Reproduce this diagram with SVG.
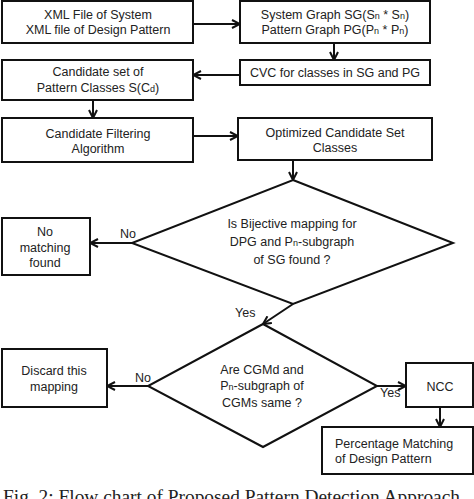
<svg xmlns="http://www.w3.org/2000/svg" width="474" height="499" viewBox="0 0 474 499">
<defs>
<marker id="arr" viewBox="0 0 10 10" refX="9" refY="5" markerWidth="10" markerHeight="10" markerUnits="userSpaceOnUse" orient="auto">
<path d="M1,1 L9,5 L1,9" fill="none" stroke="#111" stroke-width="2"/>
</marker>
<style>
.box{fill:#fff;stroke:#111;stroke-width:2}
.t{font-family:"Liberation Sans",Arial,sans-serif;font-size:12.5px;fill:#222;text-anchor:middle}
.l{font-family:"Liberation Sans",Arial,sans-serif;font-size:12.5px;fill:#222}
.s{font-size:9px}
.c{fill:none;stroke:#111;stroke-width:2;marker-end:url(#arr)}
.cap{font-family:"Liberation Serif","Times New Roman",serif;font-size:18px;fill:#222}
</style>
</defs>
<rect width="474" height="499" fill="#fff"/>
<g id="connectors">
<line class="c" x1="193" y1="24" x2="240" y2="24"/>
<line class="c" x1="334" y1="43" x2="334" y2="60"/>
<line class="c" x1="240" y1="75" x2="193" y2="75"/>
<line class="c" x1="93" y1="100" x2="93" y2="118"/>
<line class="c" x1="193" y1="136" x2="238" y2="136"/>
<line class="c" x1="293" y1="160" x2="293" y2="180"/>
<line class="c" x1="132" y1="243" x2="90" y2="243"/>
<line class="c" x1="293" y1="304" x2="263" y2="324"/>
<line class="c" x1="148" y1="386" x2="107" y2="386"/>
<line class="c" x1="377" y1="386" x2="406" y2="386"/>
<line class="c" x1="440" y1="407" x2="440" y2="427"/>
<text class="l" x="120" y="238">No</text>
<text class="l" x="235" y="317">Yes</text>
<text class="l" x="135" y="382">No</text>
<text class="l" x="380" y="397">Yes</text>
</g>
<g id="xml">
<rect class="box" x="2" y="1" width="191" height="42"/>
<text class="t" x="98" y="19">XML File of System</text>
<text class="t" x="98" y="34">XML file of Design Pattern</text>
</g>
<g id="graphs">
<rect class="box" x="240" y="1" width="190" height="42"/>
<text class="t" x="335" y="19">System Graph SG(S<tspan class="s">n</tspan> * S<tspan class="s">n</tspan>)</text>
<text class="t" x="335" y="34">Pattern Graph PG(P<tspan class="s">n</tspan> * P<tspan class="s">n</tspan>)</text>
</g>
<g id="cvc">
<rect class="box" x="240" y="60" width="190" height="25"/>
<text class="t" x="335" y="77">CVC for classes in SG and PG</text>
</g>
<g id="candidate">
<rect class="box" x="2" y="60" width="191" height="40"/>
<text class="t" x="98" y="76">Candidate set of</text>
<text class="t" x="98" y="92">Pattern Classes S(C<tspan class="s">d</tspan>)</text>
</g>
<g id="filtering">
<rect class="box" x="2" y="118" width="191" height="44"/>
<text class="t" x="98" y="138">Candidate Filtering</text>
<text class="t" x="98" y="153">Algorithm</text>
</g>
<g id="optimized">
<rect class="box" x="238" y="118" width="194" height="42"/>
<text class="t" x="335" y="137">Optimized Candidate Set</text>
<text class="t" x="335" y="152">Classes</text>
</g>
<g id="bijective">
<polygon class="box" points="293,180 453,243 293,304 132,243"/>
<text class="t" x="292" y="228">Is Bijective mapping for</text>
<text class="t" x="292" y="246">DPG and P<tspan class="s">n</tspan>-subgraph</text>
<text class="t" x="292" y="264">of SG found ?</text>
</g>
<g id="nomatch">
<rect class="box" x="2" y="218" width="88" height="57"/>
<text class="t" x="45" y="236">No</text>
<text class="t" x="45" y="252">matching</text>
<text class="t" x="45" y="267">found</text>
</g>
<g id="same">
<polygon class="box" points="263,324 377,386 263,447 148,386"/>
<text class="t" x="262" y="374">Are CGMd and</text>
<text class="t" x="262" y="390">P<tspan class="s">n</tspan>-subgraph of</text>
<text class="t" x="262" y="407">CGMs same ?</text>
</g>
<g id="discard">
<rect class="box" x="2" y="349" width="105" height="58"/>
<text class="t" x="54" y="375">Discard this</text>
<text class="t" x="54" y="391">mapping</text>
</g>
<g id="ncc">
<rect class="box" x="406" y="363" width="67" height="44"/>
<text class="t" x="440" y="391">NCC</text>
</g>
<g id="percentage">
<rect class="box" x="322" y="427" width="151" height="47"/>
<text class="l" x="335" y="448">Percentage Matching</text>
<text class="l" x="335" y="463">of Design Pattern</text>
</g>
<text class="cap" x="3" y="503" textLength="457" lengthAdjust="spacingAndGlyphs">Fig. 2: Flow chart of Proposed Pattern Detection Approach</text>
</svg>
